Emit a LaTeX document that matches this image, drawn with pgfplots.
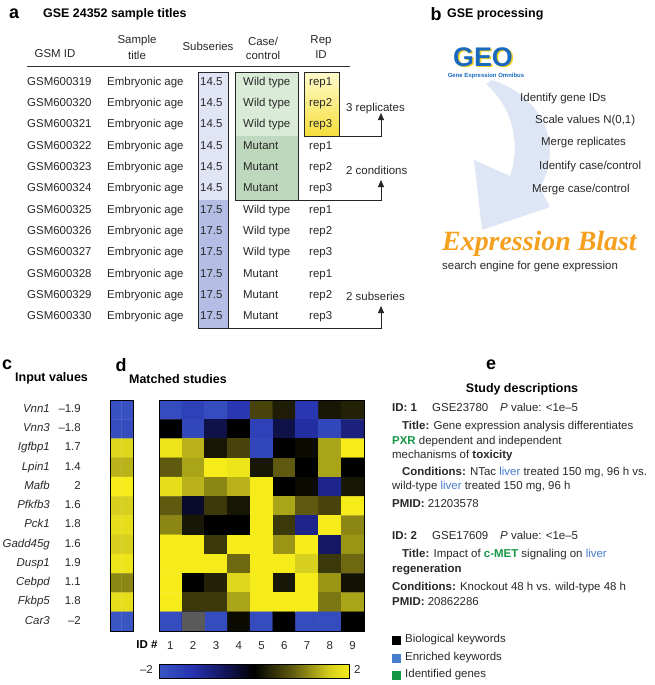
\documentclass[border=0pt]{standalone}
\usepackage{pgfplots}
\pgfplotsset{compat=1.18}
\usepackage{fontspec}
\setmainfont{Liberation Sans}
\newfontfamily\ebfont{Liberation Serif}
\usetikzlibrary{arrows.meta}
\definecolor{txt}{RGB}{40,40,40}
\definecolor{subA}{RGB}{224,228,244}
\definecolor{subB}{RGB}{180,190,228}
\definecolor{grA}{RGB}{218,235,216}
\definecolor{grB}{RGB}{190,216,190}
\definecolor{ylA}{RGB}{255,251,205}
\definecolor{ylB}{RGB}{245,222,60}
\definecolor{kwblue}{RGB}{70,125,205}
\definecolor{kwgreen}{RGB}{20,150,70}
\definecolor{ebor}{RGB}{245,160,30}
\definecolor{arrowbl}{RGB}{222,230,246}
\definecolor{geoblue}{RGB}{25,105,190}
\definecolor{nagray}{RGB}{90,90,90}
\definecolor{cb0}{RGB}{58,86,195}
\definecolor{cb1}{RGB}{38,50,175}
\definecolor{cb2}{RGB}{18,20,88}
\definecolor{cb4}{RGB}{95,90,15}
\definecolor{cb5}{RGB}{215,208,30}
\definecolor{cb6}{RGB}{245,236,25}
\pgfdeclarehorizontalshading{bkyshade}{100bp}{color(0bp)=(cb0); color(25bp)=(cb0); color(33.75bp)=(cb1); color(42.5bp)=(cb2); color(50bp)=(black); color(60bp)=(cb4); color(70bp)=(cb5); color(75bp)=(cb6); color(100bp)=(cb6)}
\newcommand\Tx{\fontsize{11.5}{13.5}\selectfont}
\newcommand\Hd{\fontsize{12.5}{14}\selectfont\bfseries}
\newcommand\Lt{\fontsize{18}{19}\selectfont\bfseries}
\pgfplotsset{colormap={bky}{rgb255(0cm)=(58,86,195); rgb255(0.7cm)=(38,50,175); rgb255(1.4cm)=(18,20,88); rgb255(2cm)=(0,0,0); rgb255(2.8cm)=(95,90,15); rgb255(3.6cm)=(215,208,30); rgb255(4cm)=(245,236,25)}}
\begin{document}
\begin{tikzpicture}
\path[use as bounding box] (0,0) rectangle (655bp,-685bp);
\begin{scope}[x=1bp,y=-1bp,every node/.style={inner sep=0pt,font=\Tx,text=txt}]
% ---------- panel a ----------
\node[font=\Lt,text=black] at (14,14) {a};
\node[anchor=mid west,font=\Hd,text=black] at (43,15) {GSE 24352 sample titles};
\node at (55,54) {GSM ID};
\node at (137,41) {Sample}; \node at (137,55) {title};
\node at (208,46) {Subseries};
\node at (263,41) {Case/}; \node at (263,55) {control};
\node at (321,41) {Rep}; \node at (321,55) {ID};
\draw[line width=0.9pt,black!80] (27,66) -- (350,66);
\fill[subA] (198,72) rectangle (228,200);
\fill[subB] (198,200) rectangle (228,328);
\fill[grA] (235,72) rectangle (298,136);
\fill[grB] (235,136) rectangle (298,200);
\shade[top color=ylA,bottom color=ylB] (304,72) rectangle (339,136);
\draw[line width=0.8pt,black!85] (198,72) rectangle (228,328);
\draw[line width=0.8pt,black!85] (235,72) rectangle (298,200);
\draw[line width=0.8pt,black!85] (304,72) rectangle (339,136);
\draw[line width=0.8pt,black!85,-{Triangle[length=7bp,width=6bp]}] (339,136) -- (381,136) -- (381,113);
\draw[line width=0.8pt,black!85,-{Triangle[length=7bp,width=6bp]}] (298,200) -- (381,200) -- (381,180);
\draw[line width=0.8pt,black!85,-{Triangle[length=7bp,width=6bp]}] (228,328) -- (381,328) -- (381,306);
\node[anchor=mid west] at (346,109) {3 replicates};
\node[anchor=mid west] at (346,172) {2 conditions};
\node[anchor=mid west] at (346,298) {2 subseries};
\foreach \i/\g/\s/\c/\r in {1/600319/14.5/Wild type/rep1,2/600320/14.5/Wild type/rep2,3/600321/14.5/Wild type/rep3,4/600322/14.5/Mutant/rep1,5/600323/14.5/Mutant/rep2,6/600324/14.5/Mutant/rep3,7/600325/17.5/Wild type/rep1,8/600326/17.5/Wild type/rep2,9/600327/17.5/Wild type/rep3,10/600328/17.5/Mutant/rep1,11/600329/17.5/Mutant/rep2,12/600330/17.5/Mutant/rep3}{
  \pgfmathsetmacro\yy{72+21.33*(\i-0.5)}
  \node[anchor=mid west] at (27,\yy) {GSM\g};
  \node[anchor=mid west] at (107,\yy) {Embryonic age};
  \node[anchor=mid west] at (200,\yy) {\s};
  \node[anchor=mid west] at (243,\yy) {\c};
  \node[anchor=mid west] at (309,\yy) {\r};
}
% ---------- panel b ----------
\node[font=\Lt,text=black] at (436,14) {b};
\node[anchor=mid west,font=\Hd,text=black] at (447,15) {GSE processing};
\fill[arrowbl] (492,80) .. controls (538,95) and (566,140) .. (540,188) -- (550,207) -- (482,230) -- (474,160) -- (510,176) .. controls (522,140) and (510,105) .. (486,84) -- cycle;
\node[font=\fontsize{27}{27}\selectfont\bfseries,text={rgb,255:red,245;green,210;blue,40}] at (484.5,58.5) {GEO};
\node[font=\fontsize{27}{27}\selectfont\bfseries,text=geoblue] at (483,57) {GEO};
\node[font=\fontsize{6}{7}\selectfont\bfseries,text=geoblue] at (486,76) {Gene Expression Omnibus};
\node[anchor=mid west] at (520,99) {Identify gene IDs};
\node[anchor=mid west] at (535,121) {Scale values N(0,1)};
\node[anchor=mid west] at (541,143) {Merge replicates};
\node[anchor=mid west] at (539,167) {Identify case/control};
\node[anchor=mid west] at (532,190) {Merge case/control};
\node[anchor=mid west,font=\fontsize{28}{30}\ebfont\bfseries\itshape,text=ebor] at (442,248) {Expression Blast};
\node[anchor=mid west] at (442,267) {search engine for gene expression};
% ---------- panel c ----------
\node[font=\Lt,text=black] at (7,365) {c};
\node[anchor=mid west,font=\Hd,text=black] at (15,379) {Input values};
\foreach \i/\g/\v in {1/Vnn1/–1.9,2/Vnn3/–1.8,3/Igfbp1/1.7,4/Lpin1/1.4,5/Mafb/2,6/Pfkfb3/1.6,7/Pck1/1.8,8/Gadd45g/1.6,9/Dusp1/1.9,10/Cebpd/1.1,11/Fkbp5/1.8,12/Car3/–2}{
  \pgfmathsetmacro\yy{400+19.25*(\i-0.5)}
  \node[anchor=mid east,font=\Tx\itshape] at (50,\yy) {\g};
  \node[anchor=mid east] at (81,\yy) {\v};
}
% ---------- panel d ----------
\node[font=\Lt,text=black] at (121,365) {d};
\node[anchor=mid west,font=\Hd,text=black] at (129,381) {Matched studies};
\node[font=\Tx\bfseries,text=black] at (147,645) {ID \#};
\shade[shading=bkyshade] (159,664) rectangle (349,678);
\draw[line width=0.8pt] (159,664) rectangle (349,678);
\node[anchor=mid east] at (153,671) {–2};
\node[anchor=mid west] at (354,671) {2};
% ---------- panel e ----------
\node[font=\Lt,text=black] at (491,365) {e};
\node[font=\Hd,text=black] at (522,389) {Study descriptions};
\node[anchor=mid west,font=\Tx\bfseries] at (392,409) {ID: 1};
\node[anchor=mid west] at (432,409) {GSE23780};
\node[anchor=mid west] at (500,409) {\textit{P} value: <1e–5};
\node[anchor=mid west] at (402,427) {\textbf{Title:} Gene expression analysis differentiates};
\node[anchor=mid west] at (392,442) {\textbf{\color{kwgreen}PXR} dependent and independent};
\node[anchor=mid west] at (392,456) {mechanisms of \textbf{toxicity}};
\node[anchor=mid west] at (402,473) {\textbf{Conditions:} NTac {\color{kwblue}liver} treated 150 mg, 96 h vs.};
\node[anchor=mid west] at (392,487) {wild-type {\color{kwblue}liver} treated 150 mg, 96 h};
\node[anchor=mid west] at (392,505) {\textbf{PMID:} 21203578};
\node[anchor=mid west,font=\Tx\bfseries] at (392,537) {ID: 2};
\node[anchor=mid west] at (432,537) {GSE17609};
\node[anchor=mid west] at (500,537) {\textit{P} value: <1e–5};
\node[anchor=mid west] at (402,555) {\textbf{Title:} Impact of \textbf{\color{kwgreen}c-MET} signaling on {\color{kwblue}liver}};
\node[anchor=mid west] at (392,570) {\textbf{regeneration}};
\node[anchor=mid west] at (392,588) {\textbf{Conditions:} Knockout 48 h vs. wild-type 48 h};
\node[anchor=mid west] at (392,603) {\textbf{PMID:} 20862286};
\fill[black] (392,635.5) rectangle (401,644.5);
\fill[kwblue] (392,653.5) rectangle (401,662.5);
\fill[kwgreen] (392,670.5) rectangle (401,679.5);
\node[anchor=mid west] at (405,640) {Biological keywords};
\node[anchor=mid west] at (405,658) {Enriched keywords};
\node[anchor=mid west] at (405,675) {Identified genes};
\end{scope}
% ---------- input column ----------
\begin{axis}[at={(110bp,-400bp)},anchor=north west,scale only axis,width=23bp,height=231bp,
  xmin=0.5,xmax=2.5,ymin=0.5,ymax=12.5,y dir=reverse,xtick=\empty,ytick=\empty,
  colormap name=bky,point meta min=-2,point meta max=2,axis on top,axis line style={line width=0.8pt}]
\addplot[matrix plot*,mesh/cols=2,point meta=explicit] coordinates {
(1,1)[-1.9] (2,1)[-1.9]
(1,2)[-1.8] (2,2)[-1.8]
(1,3)[1.7] (2,3)[1.7]
(1,4)[1.4] (2,4)[1.4]
(1,5)[2] (2,5)[2]
(1,6)[1.6] (2,6)[1.6]
(1,7)[1.8] (2,7)[1.8]
(1,8)[1.6] (2,8)[1.6]
(1,9)[1.9] (2,9)[1.9]
(1,10)[1.1] (2,10)[1.1]
(1,11)[1.8] (2,11)[1.8]
(1,12)[-2] (2,12)[-2]
};
\end{axis}
% ---------- heatmap ----------
\begin{axis}[at={(159bp,-400bp)},anchor=north west,scale only axis,width=205bp,height=231bp,
  xmin=0.5,xmax=9.5,ymin=0.5,ymax=12.5,y dir=reverse,xtick={1,...,9},ytick=\empty,
  major tick length=0pt,xticklabel style={font=\Tx,text=txt,yshift=-7bp},
  /pgf/number format/assume math mode=true,
  colormap name=bky,point meta min=-2,point meta max=2,axis on top,axis line style={line width=0.8pt}]
\addplot[matrix plot*,mesh/cols=9,point meta=explicit] coordinates {
(1,1)[-1.8] (2,1)[-1.6] (3,1)[-1.8] (4,1)[-1.4] (5,1)[0.6] (6,1)[0.25] (7,1)[-1.4] (8,1)[0.2] (9,1)[0.3]
(1,2)[0] (2,2)[-1.7] (3,2)[-0.5] (4,2)[0] (5,2)[-1.6] (6,2)[-0.5] (7,2)[-1.2] (8,2)[-1.7] (9,2)[-0.9]
(1,3)[1.9] (2,3)[1.4] (3,3)[0.2] (4,3)[0.6] (5,3)[-1.7] (6,3)[0] (7,3)[0.1] (8,3)[1.3] (9,3)[2]
(1,4)[0.8] (2,4)[1.3] (3,4)[2] (4,4)[1.9] (5,4)[0.2] (6,4)[0.8] (7,4)[0] (8,4)[1.3] (9,4)[0]
(1,5)[1.8] (2,5)[1.4] (3,5)[1.1] (4,5)[1.4] (5,5)[2] (6,5)[0] (7,5)[0.1] (8,5)[-1.0] (9,5)[0.2]
(1,6)[0.8] (2,6)[-0.3] (3,6)[0.5] (4,6)[0.2] (5,6)[2] (6,6)[1.3] (7,6)[0.8] (8,6)[0.6] (9,6)[2]
(1,7)[1.1] (2,7)[0.2] (3,7)[0] (4,7)[0] (5,7)[2] (6,7)[0.5] (7,7)[-1.0] (8,7)[2] (9,7)[1.1]
(1,8)[2] (2,8)[2] (3,8)[0.5] (4,8)[2] (5,8)[2] (6,8)[1.2] (7,8)[2] (8,8)[-0.7] (9,8)[1.2]
(1,9)[2] (2,9)[2] (3,9)[2] (4,9)[0.9] (5,9)[2] (6,9)[2] (7,9)[1.6] (8,9)[0.5] (9,9)[0.9]
(1,10)[2] (2,10)[0] (3,10)[0.3] (4,10)[1.7] (5,10)[2] (6,10)[0.2] (7,10)[2] (8,10)[1.2] (9,10)[0.15]
(1,11)[2] (2,11)[0.5] (3,11)[0.5] (4,11)[1.3] (5,11)[2] (6,11)[2] (7,11)[2] (8,11)[1.0] (9,11)[1.3]
(1,12)[-1.8] (2,12)[-1.0] (3,12)[-1.8] (4,12)[0.1] (5,12)[-1.8] (6,12)[0] (7,12)[-1.8] (8,12)[-1.8] (9,12)[0]
};
\addplot[fill=nagray,draw=none] coordinates {(1.5,11.5) (2.5,11.5) (2.5,12.5) (1.5,12.5)} -- cycle;
\end{axis}
\end{tikzpicture}
\end{document}
